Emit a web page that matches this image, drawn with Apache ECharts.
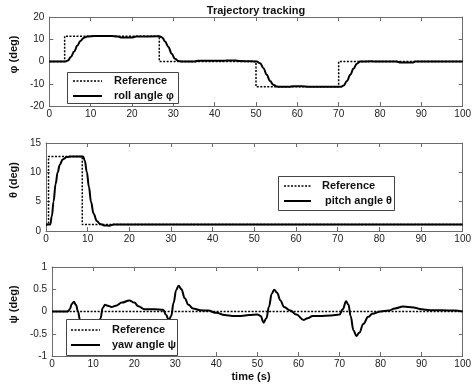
<!DOCTYPE html>
<html>
<head>
<meta charset="utf-8">
<script src="https://cdn.jsdelivr.net/npm/echarts@6/dist/echarts.min.js"></script>
<style>html,body{margin:0;padding:0;background:#fff;}#c{width:474px;height:386px;}</style>
</head>
<body>
<div id="c"></div>
<script>
// ---- data ----
var phiRefT = [0, 3.7, 3.7, 26.6, 26.6, 50, 50, 70, 70, 100];
var phiRefV = [0, 0, 11.4, 11.4, 0, 0, -11.4, -11.4, 0, 0];
var phiT = [0, 3.9, 4.5, 5.2, 6, 6.8, 7.5, 8.3, 9.2, 11, 15, 16.5, 17.5, 20, 21, 26.6, 27.3, 28, 28.8, 29.6, 30.4, 31.2, 32, 35, 36, 42, 43, 45, 46, 49, 50.2, 51, 51.8, 52.6, 53.4, 54.2, 55, 56, 58, 59, 61, 63, 70.5, 71.2, 72, 72.8, 73.6, 74.4, 75.2, 78, 79, 84, 85, 88, 88.5, 100];
var phiV = [0, 0, 0.5, 2, 4.5, 7.2, 9.2, 10.6, 11.2, 11.5, 11.5, 11.2, 10.8, 10.8, 11.2, 11.3, 10.8, 9, 6.5, 3.5, 1.2, 0.2, 0, 0, 0.3, 0.3, 0.5, 0.5, 0.2, 0.1, 0, -0.8, -3, -6, -8.8, -10.5, -11.2, -11.4, -11.4, -11.1, -11.1, -11.3, -11.4, -10.8, -8.8, -6, -3.2, -1, 0, 0.1, 0, 0, -0.4, -0.4, 0, 0];

var thetaRefT = [0, 0.6, 0.6, 8.7, 8.7, 100];
var thetaRefV = [1.1, 1.1, 12.7, 12.7, 1.1, 1.1];
var thetaT = [0, 1, 1.4, 1.8, 2.3, 2.8, 3.3, 4, 5, 6, 8.9, 9.3, 9.8, 10.3, 10.8, 11.4, 12.2, 13, 14, 15.2, 16.2, 100];
var thetaV = [1.1, 1.1, 2.5, 5, 8, 10, 11.3, 12.2, 12.6, 12.7, 12.7, 12, 10, 7.5, 5, 3, 1.7, 1.2, 0.95, 0.9, 1.1, 1.1];

var psiRefT = [0, 100];
var psiRefV = [0, 0];
var psiT = [0, 3.8, 4.3, 4.8, 5.3, 5.8, 6.3, 6.8, 7.3, 8.5, 10, 11.2, 11.8, 12.3, 12.9, 13.6, 14.5, 15.5, 17, 18.8, 20, 21, 22.5, 25, 27, 27.8, 28.4, 29, 29.6, 30.2, 30.8, 31.5, 32.3, 33.2, 34.3, 36, 38, 40, 42, 44, 46, 48, 50, 50.8, 51.5, 52.2, 52.8, 53.5, 54.1, 54.8, 55.6, 56.5, 58, 59.5, 61.3, 62.2, 63.5, 65, 68, 70, 70.8, 71.6, 72.2, 72.7, 73.4, 74.1, 74.8, 75.8, 77, 78, 80, 82, 83.5, 85.5, 88, 90, 92, 95, 98, 100];
var psiV = [0, 0, 0.05, 0.17, 0.22, 0.15, 0, -0.2, -0.35, -0.55, -0.5, -0.35, -0.15, 0.08, 0.15, 0.13, 0.1, 0.13, 0.2, 0.25, 0.2, 0.12, 0.05, 0.05, 0.04, -0.08, -0.2, -0.1, 0.2, 0.48, 0.58, 0.5, 0.3, 0.15, 0.07, 0.03, 0.02, -0.03, -0.08, -0.1, -0.1, -0.08, -0.07, -0.1, -0.25, -0.15, 0.1, 0.4, 0.49, 0.42, 0.25, 0.1, 0.02, -0.07, -0.19, -0.15, -0.1, -0.1, -0.09, -0.07, 0.05, 0.23, 0.15, -0.1, -0.42, -0.55, -0.48, -0.28, -0.12, -0.05, 0, 0.02, 0.07, 0.11, 0.09, 0.05, 0.03, 0.03, 0.02, 0];

var xTicks = {min: 0, max: 100, interval: 10};
var yRanges = [
  {min: -20, max: 20, interval: 10, name: 'φ (deg)'},
  {min: 0, max: 15, interval: 5, name: 'θ (deg)'},
  {min: -1, max: 1, interval: 0.5, name: 'ψ (deg)'}
];
var legendNames = [
  ['Reference', 'roll angle φ'],
  ['Reference', 'pitch angle θ'],
  ['Reference', 'yaw angle ψ']
];

function zip(t, v) { return t.map(function (x, i) { return [x, v[i]]; }); }

var chart = echarts.init(document.getElementById('c'), null, {renderer: 'canvas'});
var axisCol = '#6b6b6b';
var lblStyle = {color: '#222', fontSize: 10, fontFamily: 'Liberation Sans, Arial, sans-serif'};
var grids = [
  {left: 35, right: 10, top: 17, height: 89},
  {left: 35, right: 10, top: 143, height: 88},
  {left: 35, right: 10, top: 267, height: 89}
];
var xAxes = [], yAxes = [];
grids.forEach(function (g, i) {
  xAxes.push({type: 'value', gridIndex: i, position: 'bottom', min: xTicks.min, max: xTicks.max, interval: xTicks.interval,
    axisLine: {show: true, onZero: false, lineStyle: {color: axisCol, width: 1}},
    axisTick: {show: true, inside: true, length: 4, lineStyle: {color: axisCol}},
    axisLabel: {show: true, margin: 3, color: lblStyle.color, fontSize: 10, fontFamily: lblStyle.fontFamily},
    splitLine: {show: false}});
  xAxes.push({type: 'value', gridIndex: i, position: 'top', min: xTicks.min, max: xTicks.max, interval: xTicks.interval,
    axisLine: {show: true, onZero: false, lineStyle: {color: axisCol, width: 1}},
    axisTick: {show: true, inside: true, length: 4, lineStyle: {color: axisCol}},
    axisLabel: {show: false}, splitLine: {show: false}});
  var r = yRanges[i];
  yAxes.push({type: 'value', gridIndex: i, position: 'left', min: r.min, max: r.max, interval: r.interval,
    name: r.name, nameLocation: 'middle', nameGap: 27,
    nameTextStyle: {color: '#111', fontSize: 11, fontWeight: 'bold', fontFamily: lblStyle.fontFamily, padding: [0, 0, 0, 14]},
    axisLine: {show: true, onZero: false, lineStyle: {color: axisCol, width: 1}},
    axisTick: {show: true, inside: true, length: 4, lineStyle: {color: axisCol}},
    axisLabel: {show: true, margin: 5, color: lblStyle.color, fontSize: 10, fontFamily: lblStyle.fontFamily},
    splitLine: {show: false}});
  yAxes.push({type: 'value', gridIndex: i, position: 'right', min: r.min, max: r.max, interval: r.interval,
    axisLine: {show: true, onZero: false, lineStyle: {color: axisCol, width: 1}},
    axisTick: {show: true, inside: true, length: 4, lineStyle: {color: axisCol}},
    axisLabel: {show: false}, splitLine: {show: false}});
});

function refSeries(i, t, v) {
  return {type: 'line', xAxisIndex: i * 2, yAxisIndex: i * 2, data: zip(t, v), symbol: 'none', silent: true, z: 2,
    lineStyle: {color: '#000', width: 1.5, type: [2, 1.5]}};
}
function actSeries(i, t, v) {
  return {type: 'line', xAxisIndex: i * 2, yAxisIndex: i * 2, data: zip(t, v), symbol: 'none', silent: true, z: 3,
    smooth: 0.4, smoothMonotone: 'x', lineStyle: {color: '#000', width: 2}};
}

// legend boxes
var legendBoxes = [
  {x: 67, y: 72, w: 111, h: 31, lx0: 73, lx1: 102, tx: 114, tx2: 114, y1: 81, y2: 96},
  {x: 278, y: 176, w: 116, h: 34, lx0: 284, lx1: 311, tx: 322, tx2: 325, y1: 186, y2: 201},
  {x: 66, y: 319, w: 111, h: 36, lx0: 71, lx1: 100, tx: 112, tx2: 112, y1: 330, y2: 345}
];
var graphics = [];
legendBoxes.forEach(function (b, i) {
  graphics.push({type: 'rect', z: 100, shape: {x: b.x + 0.5, y: b.y + 0.5, width: b.w, height: b.h},
    style: {fill: '#fff', stroke: '#444', lineWidth: 1}});
  graphics.push({type: 'line', z: 101, shape: {x1: b.lx0, y1: b.y1, x2: b.lx1, y2: b.y1},
    style: {stroke: '#000', lineWidth: 1.5, lineDash: [2, 1.5]}});
  graphics.push({type: 'line', z: 101, shape: {x1: b.lx0, y1: b.y2, x2: b.lx1, y2: b.y2},
    style: {stroke: '#000', lineWidth: 2}});
  graphics.push({type: 'text', z: 101, x: b.tx, y: b.y1,
    style: {text: legendNames[i][0], fill: '#111', font: 'bold 11px Liberation Sans, Arial, sans-serif', verticalAlign: 'middle'}});
  graphics.push({type: 'text', z: 101, x: b.tx2, y: b.y2,
    style: {text: legendNames[i][1], fill: '#111', font: 'bold 11px Liberation Sans, Arial, sans-serif', verticalAlign: 'middle'}});
});
graphics.push({type: 'text', z: 101, x: 251, y: 377,
  style: {text: 'time (s)', fill: '#111', font: 'bold 11px Liberation Sans, Arial, sans-serif', align: 'center', verticalAlign: 'middle'}});

chart.setOption({
  animation: false,
  backgroundColor: '#fff',
  title: {text: 'Trajectory tracking', left: 251, textAlign: 'center', top: 0,
    textStyle: {fontSize: 11, fontWeight: 'bold', color: '#111', fontFamily: 'Liberation Sans, Arial, sans-serif'}},
  grid: grids,
  xAxis: xAxes,
  yAxis: yAxes,
  series: [
    refSeries(0, phiRefT, phiRefV), actSeries(0, phiT, phiV),
    refSeries(1, thetaRefT, thetaRefV), actSeries(1, thetaT, thetaV),
    refSeries(2, psiRefT, psiRefV), actSeries(2, psiT, psiV)
  ],
  graphic: graphics
});
</script>
</body>
</html>
